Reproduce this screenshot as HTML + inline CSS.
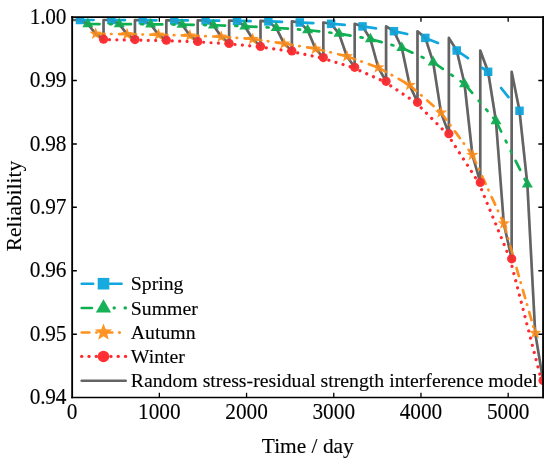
<!DOCTYPE html>
<html><head><meta charset="utf-8"><title>Reliability</title>
<style>html,body{margin:0;padding:0;background:#fff}svg{display:block}text{font-family:"Liberation Serif",serif;fill:#000;stroke:#000;stroke-width:0.12px}</style></head><body>
<svg width="550" height="464" viewBox="0 0 550 464">
<rect width="550" height="464" fill="#fff"/>
<defs><clipPath id="c"><rect x="72.15" y="17.10" width="470.90" height="380.45"/></clipPath></defs>
<g clip-path="url(#c)">
<polyline points="72.15,20.00 80.00,20.00 87.85,24.00 95.70,33.80 103.54,39.20 103.54,20.00 111.39,20.00 119.24,24.10 127.09,34.20 134.94,39.60 134.94,20.00 142.79,20.20 150.63,24.30 158.48,34.80 166.33,40.20 166.33,20.20 174.18,20.40 182.03,24.60 189.88,35.60 197.72,41.40 197.72,20.40 205.57,20.50 213.42,25.20 221.27,36.80 229.12,43.40 229.12,20.50 236.97,20.90 244.81,26.20 252.66,39.00 260.51,46.40 260.51,20.90 268.36,21.40 276.21,27.90 284.06,43.60 291.90,50.90 291.90,21.40 299.75,22.50 307.60,30.10 315.45,48.70 323.30,57.60 323.30,22.50 331.14,23.80 338.99,33.60 346.84,56.30 354.69,67.30 354.69,23.80 362.54,26.40 370.39,39.00 378.24,67.50 386.08,81.30 386.08,26.40 393.93,31.20 401.78,47.80 409.63,85.10 417.48,102.30 417.48,31.20 425.33,37.90 433.17,62.20 441.02,112.60 448.87,133.70 448.87,37.90 456.72,50.50 464.57,84.00 472.41,155.00 480.26,182.40 480.26,50.50 488.11,71.80 495.96,121.00 503.81,223.50 511.66,258.80 511.66,71.80 519.50,110.80 527.35,184.40 535.20,332.90 543.05,380.50" fill="none" stroke="#646464" stroke-width="2.65" stroke-linejoin="round" stroke-linecap="round"/>
<path d="M488.11 71.80L519.50 110.80" fill="none" stroke="#10a7de" stroke-width="2.7" stroke-dasharray="11.6 17.2" stroke-dashoffset="7.95" stroke-linecap="round"/>
<path d="M80.00 20.00L111.39 20.00M111.39 20.00L142.79 20.20M142.79 20.20L174.18 20.40M174.18 20.40L205.57 20.50M205.57 20.50L236.97 20.90M236.97 20.90L268.36 21.40M268.36 21.40L299.75 22.50M299.75 22.50L331.14 23.80M331.14 23.80L362.54 26.40M362.54 26.40L393.93 31.20M393.93 31.20L425.33 37.90M425.33 37.90L456.72 50.50M456.72 50.50L488.11 71.80" fill="none" stroke="#10a7de" stroke-width="2.7" stroke-dasharray="11.6 17.2" stroke-dashoffset="-2.0" stroke-linecap="round"/>
<rect x="75.75" y="15.75" width="8.50" height="8.50" fill="#10a7de" fill-opacity="0.97"/>
<rect x="107.14" y="15.75" width="8.50" height="8.50" fill="#10a7de" fill-opacity="0.97"/>
<rect x="138.54" y="15.95" width="8.50" height="8.50" fill="#10a7de" fill-opacity="0.97"/>
<rect x="169.93" y="16.15" width="8.50" height="8.50" fill="#10a7de" fill-opacity="0.97"/>
<rect x="201.32" y="16.25" width="8.50" height="8.50" fill="#10a7de" fill-opacity="0.97"/>
<rect x="232.72" y="16.65" width="8.50" height="8.50" fill="#10a7de" fill-opacity="0.97"/>
<rect x="264.11" y="17.15" width="8.50" height="8.50" fill="#10a7de" fill-opacity="0.97"/>
<rect x="295.50" y="18.25" width="8.50" height="8.50" fill="#10a7de" fill-opacity="0.97"/>
<rect x="326.89" y="19.55" width="8.50" height="8.50" fill="#10a7de" fill-opacity="0.97"/>
<rect x="358.29" y="22.15" width="8.50" height="8.50" fill="#10a7de" fill-opacity="0.97"/>
<rect x="389.68" y="26.95" width="8.50" height="8.50" fill="#10a7de" fill-opacity="0.97"/>
<rect x="421.08" y="33.65" width="8.50" height="8.50" fill="#10a7de" fill-opacity="0.97"/>
<rect x="452.47" y="46.25" width="8.50" height="8.50" fill="#10a7de" fill-opacity="0.97"/>
<rect x="483.86" y="67.55" width="8.50" height="8.50" fill="#10a7de" fill-opacity="0.97"/>
<rect x="515.25" y="106.55" width="8.50" height="8.50" fill="#10a7de" fill-opacity="0.97"/>
<path d="M87.85 24.00L119.24 24.10M119.24 24.10L150.63 24.30M150.63 24.30L182.03 24.60M182.03 24.60L213.42 25.20M213.42 25.20L244.81 26.20M244.81 26.20L276.21 27.90M276.21 27.90L307.60 30.10M307.60 30.10L338.99 33.60M338.99 33.60L370.39 39.00M370.39 39.00L401.78 47.80M401.78 47.80L433.17 62.20M433.17 62.20L464.57 84.00M464.57 84.00L495.96 121.00M495.96 121.00L527.35 184.40" fill="none" stroke="#0fb052" stroke-width="2.7" stroke-dasharray="10.1 10.2 2.0 9.5 2.0 9.0" stroke-dashoffset="-1.6" stroke-linecap="round"/>
<polygon points="87.85,17.65 82.35,27.18 93.35,27.18" fill="#0fb052" fill-opacity="0.97"/>
<polygon points="119.24,17.75 113.74,27.28 124.74,27.28" fill="#0fb052" fill-opacity="0.97"/>
<polygon points="150.63,17.95 145.13,27.48 156.13,27.48" fill="#0fb052" fill-opacity="0.97"/>
<polygon points="182.03,18.25 176.53,27.78 187.53,27.78" fill="#0fb052" fill-opacity="0.97"/>
<polygon points="213.42,18.85 207.92,28.38 218.92,28.38" fill="#0fb052" fill-opacity="0.97"/>
<polygon points="244.81,19.85 239.31,29.38 250.31,29.38" fill="#0fb052" fill-opacity="0.97"/>
<polygon points="276.21,21.55 270.71,31.08 281.71,31.08" fill="#0fb052" fill-opacity="0.97"/>
<polygon points="307.60,23.75 302.10,33.28 313.10,33.28" fill="#0fb052" fill-opacity="0.97"/>
<polygon points="338.99,27.25 333.49,36.78 344.49,36.78" fill="#0fb052" fill-opacity="0.97"/>
<polygon points="370.39,32.65 364.89,42.18 375.89,42.18" fill="#0fb052" fill-opacity="0.97"/>
<polygon points="401.78,41.45 396.28,50.98 407.28,50.98" fill="#0fb052" fill-opacity="0.97"/>
<polygon points="433.17,55.85 427.67,65.38 438.67,65.38" fill="#0fb052" fill-opacity="0.97"/>
<polygon points="464.57,77.65 459.07,87.18 470.07,87.18" fill="#0fb052" fill-opacity="0.97"/>
<polygon points="495.96,114.65 490.46,124.18 501.46,124.18" fill="#0fb052" fill-opacity="0.97"/>
<polygon points="527.35,178.05 521.85,187.58 532.85,187.58" fill="#0fb052" fill-opacity="0.97"/>
<path d="M95.70 33.80L127.09 34.20M127.09 34.20L158.48 34.80M158.48 34.80L189.88 35.60M189.88 35.60L221.27 36.80M221.27 36.80L252.66 39.00M252.66 39.00L284.06 43.60M284.06 43.60L315.45 48.70M315.45 48.70L346.84 56.30M346.84 56.30L378.24 67.50M378.24 67.50L409.63 85.10M409.63 85.10L441.02 112.60M441.02 112.60L472.41 155.00M472.41 155.00L503.81 223.50M503.81 223.50L535.20 332.90" fill="none" stroke="#ff911e" stroke-width="2.7" stroke-dasharray="8.35 6.5 0.5 7.55" stroke-dashoffset="-0.5" stroke-linecap="round"/>
<polygon points="95.70,27.30 97.30,31.59 101.88,31.79 98.29,34.64 99.52,39.06 95.70,36.53 91.87,39.06 93.10,34.64 89.51,31.79 94.09,31.59" fill="#ff911e" fill-opacity="0.97"/>
<polygon points="127.09,27.70 128.69,31.99 133.27,32.19 129.68,35.04 130.91,39.46 127.09,36.93 123.27,39.46 124.49,35.04 120.91,32.19 125.48,31.99" fill="#ff911e" fill-opacity="0.97"/>
<polygon points="158.48,28.30 160.09,32.59 164.66,32.79 161.08,35.64 162.30,40.06 158.48,37.53 154.66,40.06 155.89,35.64 152.30,32.79 156.88,32.59" fill="#ff911e" fill-opacity="0.97"/>
<polygon points="189.88,29.10 191.48,33.39 196.06,33.59 192.47,36.44 193.70,40.86 189.88,38.33 186.05,40.86 187.28,36.44 183.69,33.59 188.27,33.39" fill="#ff911e" fill-opacity="0.97"/>
<polygon points="221.27,30.30 222.87,34.59 227.45,34.79 223.86,37.64 225.09,42.06 221.27,39.53 217.45,42.06 218.67,37.64 215.09,34.79 219.66,34.59" fill="#ff911e" fill-opacity="0.97"/>
<polygon points="252.66,32.50 254.27,36.79 258.84,36.99 255.26,39.84 256.48,44.26 252.66,41.73 248.84,44.26 250.07,39.84 246.48,36.99 251.06,36.79" fill="#ff911e" fill-opacity="0.97"/>
<polygon points="284.06,37.10 285.66,41.39 290.24,41.59 286.65,44.44 287.88,48.86 284.06,46.33 280.23,48.86 281.46,44.44 277.87,41.59 282.45,41.39" fill="#ff911e" fill-opacity="0.97"/>
<polygon points="315.45,42.20 317.05,46.49 321.63,46.69 318.04,49.54 319.27,53.96 315.45,51.43 311.63,53.96 312.85,49.54 309.27,46.69 313.84,46.49" fill="#ff911e" fill-opacity="0.97"/>
<polygon points="346.84,49.80 348.45,54.09 353.02,54.29 349.44,57.14 350.66,61.56 346.84,59.03 343.02,61.56 344.25,57.14 340.66,54.29 345.24,54.09" fill="#ff911e" fill-opacity="0.97"/>
<polygon points="378.24,61.00 379.84,65.29 384.42,65.49 380.83,68.34 382.06,72.76 378.24,70.23 374.41,72.76 375.64,68.34 372.05,65.49 376.63,65.29" fill="#ff911e" fill-opacity="0.97"/>
<polygon points="409.63,78.60 411.23,82.89 415.81,83.09 412.22,85.94 413.45,90.36 409.63,87.83 405.81,90.36 407.03,85.94 403.45,83.09 408.02,82.89" fill="#ff911e" fill-opacity="0.97"/>
<polygon points="441.02,106.10 442.63,110.39 447.20,110.59 443.62,113.44 444.84,117.86 441.02,115.33 437.20,117.86 438.43,113.44 434.84,110.59 439.42,110.39" fill="#ff911e" fill-opacity="0.97"/>
<polygon points="472.41,148.50 474.02,152.79 478.60,152.99 475.01,155.84 476.24,160.26 472.41,157.73 468.59,160.26 469.82,155.84 466.23,152.99 470.81,152.79" fill="#ff911e" fill-opacity="0.97"/>
<polygon points="503.81,217.00 505.41,221.29 509.99,221.49 506.40,224.34 507.63,228.76 503.81,226.23 499.99,228.76 501.21,224.34 497.63,221.49 502.20,221.29" fill="#ff911e" fill-opacity="0.97"/>
<polygon points="535.20,326.40 536.81,330.69 541.38,330.89 537.80,333.74 539.02,338.16 535.20,335.63 531.38,338.16 532.61,333.74 529.02,330.89 533.60,330.69" fill="#ff911e" fill-opacity="0.97"/>
<path d="M103.54 39.20L134.94 39.60M134.94 39.60L166.33 40.20M166.33 40.20L197.72 41.40M197.72 41.40L229.12 43.40M229.12 43.40L260.51 46.40M260.51 46.40L291.90 50.90M291.90 50.90L323.30 57.60M323.30 57.60L354.69 67.30M354.69 67.30L386.08 81.30M386.08 81.30L417.48 102.30M417.48 102.30L448.87 133.70M448.87 133.70L480.26 182.40M480.26 182.40L511.66 258.80M511.66 258.80L543.05 380.50" fill="none" stroke="#ff2a2e" stroke-width="3.2" stroke-dasharray="0.01 7.4" stroke-dashoffset="0" stroke-linecap="round" transform="translate(-1.5,0.4)"/>
<circle cx="103.54" cy="39.20" r="4.60" fill="#ff2a2e" fill-opacity="0.97"/>
<circle cx="134.94" cy="39.60" r="4.60" fill="#ff2a2e" fill-opacity="0.97"/>
<circle cx="166.33" cy="40.20" r="4.60" fill="#ff2a2e" fill-opacity="0.97"/>
<circle cx="197.72" cy="41.40" r="4.60" fill="#ff2a2e" fill-opacity="0.97"/>
<circle cx="229.12" cy="43.40" r="4.60" fill="#ff2a2e" fill-opacity="0.97"/>
<circle cx="260.51" cy="46.40" r="4.60" fill="#ff2a2e" fill-opacity="0.97"/>
<circle cx="291.90" cy="50.90" r="4.60" fill="#ff2a2e" fill-opacity="0.97"/>
<circle cx="323.30" cy="57.60" r="4.60" fill="#ff2a2e" fill-opacity="0.97"/>
<circle cx="354.69" cy="67.30" r="4.60" fill="#ff2a2e" fill-opacity="0.97"/>
<circle cx="386.08" cy="81.30" r="4.60" fill="#ff2a2e" fill-opacity="0.97"/>
<circle cx="417.48" cy="102.30" r="4.60" fill="#ff2a2e" fill-opacity="0.97"/>
<circle cx="448.87" cy="133.70" r="4.60" fill="#ff2a2e" fill-opacity="0.97"/>
<circle cx="480.26" cy="182.40" r="4.60" fill="#ff2a2e" fill-opacity="0.97"/>
<circle cx="511.66" cy="258.80" r="4.60" fill="#ff2a2e" fill-opacity="0.97"/>
<circle cx="543.05" cy="380.50" r="4.60" fill="#ff2a2e" fill-opacity="0.97"/>
<polyline points="72.15,20.00 80.00,20.00 87.85,24.00 95.70,33.80 103.54,39.20 103.54,20.00 111.39,20.00 119.24,24.10 127.09,34.20 134.94,39.60 134.94,20.00 142.79,20.20 150.63,24.30 158.48,34.80 166.33,40.20 166.33,20.20 174.18,20.40 182.03,24.60 189.88,35.60 197.72,41.40 197.72,20.40 205.57,20.50 213.42,25.20 221.27,36.80 229.12,43.40 229.12,20.50 236.97,20.90 244.81,26.20 252.66,39.00 260.51,46.40 260.51,20.90 268.36,21.40 276.21,27.90 284.06,43.60 291.90,50.90 291.90,21.40 299.75,22.50 307.60,30.10 315.45,48.70 323.30,57.60 323.30,22.50 331.14,23.80 338.99,33.60 346.84,56.30 354.69,67.30 354.69,23.80 362.54,26.40 370.39,39.00 378.24,67.50 386.08,81.30 386.08,26.40 393.93,31.20 401.78,47.80 409.63,85.10 417.48,102.30 417.48,31.20 425.33,37.90 433.17,62.20 441.02,112.60 448.87,133.70 448.87,37.90 456.72,50.50 464.57,84.00 472.41,155.00 480.26,182.40 480.26,50.50 488.11,71.80 495.96,121.00 503.81,223.50 511.66,258.80 511.66,71.80 519.50,110.80 527.35,184.40 535.20,332.90 543.05,380.50" fill="none" stroke="#646464" stroke-width="2.65" stroke-linejoin="round" stroke-opacity="0.16"/>
</g>
<line x1="81.68" y1="283.70" x2="93.22" y2="283.70" stroke="#10a7de" stroke-width="2.55" stroke-linecap="round"/><line x1="109.98" y1="283.70" x2="121.62" y2="283.70" stroke="#10a7de" stroke-width="2.55" stroke-linecap="round"/>
<line x1="81.68" y1="307.90" x2="91.92" y2="307.90" stroke="#0fb052" stroke-width="2.55" stroke-linecap="round"/><line x1="114.10" y1="307.90" x2="114.30" y2="307.90" stroke="#0fb052" stroke-width="3.2" stroke-linecap="round"/><line x1="125.10" y1="307.90" x2="125.40" y2="307.90" stroke="#0fb052" stroke-width="3.2" stroke-linecap="round"/>
<line x1="81.68" y1="332.40" x2="89.42" y2="332.40" stroke="#ff911e" stroke-width="2.55" stroke-linecap="round"/><line x1="96.28" y1="332.40" x2="96.72" y2="332.40" stroke="#ff911e" stroke-width="2.55" stroke-linecap="round"/><line x1="104.48" y1="332.40" x2="112.32" y2="332.40" stroke="#ff911e" stroke-width="2.55" stroke-linecap="round"/><line x1="119.50" y1="332.40" x2="119.51" y2="332.40" stroke="#ff911e" stroke-width="3" stroke-linecap="round"/>
<line x1="81.70" y1="356.40" x2="81.71" y2="356.40" stroke="#ff2a2e" stroke-width="3.3" stroke-linecap="round"/>
<line x1="89.00" y1="356.40" x2="89.01" y2="356.40" stroke="#ff2a2e" stroke-width="3.3" stroke-linecap="round"/>
<line x1="96.30" y1="356.40" x2="96.31" y2="356.40" stroke="#ff2a2e" stroke-width="3.3" stroke-linecap="round"/>
<line x1="103.60" y1="356.40" x2="103.61" y2="356.40" stroke="#ff2a2e" stroke-width="3.3" stroke-linecap="round"/>
<line x1="110.90" y1="356.40" x2="110.91" y2="356.40" stroke="#ff2a2e" stroke-width="3.3" stroke-linecap="round"/>
<line x1="118.20" y1="356.40" x2="118.21" y2="356.40" stroke="#ff2a2e" stroke-width="3.3" stroke-linecap="round"/>
<line x1="125.50" y1="356.40" x2="125.51" y2="356.40" stroke="#ff2a2e" stroke-width="3.3" stroke-linecap="round"/>
<rect x="97.70" y="277.90" width="11.60" height="11.60" fill="#10a7de" fill-opacity="0.97"/>
<polygon points="103.50,299.27 95.85,312.52 111.15,312.52" fill="#0fb052" fill-opacity="0.97"/>
<polygon points="103.50,323.40 105.72,329.34 112.06,329.62 107.09,333.57 108.79,339.68 103.50,336.18 98.21,339.68 99.91,333.57 94.94,329.62 101.28,329.34" fill="#ff911e" fill-opacity="0.97"/>
<circle cx="103.50" cy="356.40" r="5.75" fill="#ff2a2e" fill-opacity="0.97"/>
<line x1="81.70" y1="380.80" x2="125.70" y2="380.80" stroke="#646464" stroke-width="2.6" stroke-linecap="round"/>
<text x="130.8" y="290.3" font-size="19.75">Spring</text>
<text x="130.8" y="314.5" font-size="19.75">Summer</text>
<text x="130.8" y="339.0" font-size="19.75">Autumn</text>
<text x="130.8" y="363.0" font-size="19.75">Winter</text>
<text x="130.8" y="387.4" font-size="19.75">Random stress-residual strength interference model</text>
<path d="M72.15 16.25V398.35M543.05 16.25V398.35" stroke="#000" stroke-width="1.85" fill="none"/>
<path d="M71.23 17.10H543.97" stroke="#000" stroke-width="1.7" fill="none"/>
<path d="M71.23 397.55H543.97" stroke="#000" stroke-width="1.6" fill="none"/>
<path d="M159.35 397.55v-4.7M159.35 17.10v4.7M246.56 397.55v-4.7M246.56 17.10v4.7M333.76 397.55v-4.7M333.76 17.10v4.7M420.96 397.55v-4.7M420.96 17.10v4.7M508.17 397.55v-4.7M508.17 17.10v4.7" stroke="#000" stroke-width="1.3" fill="none"/>
<path d="M72.15 80.51h4.7M543.05 80.51h-4.7M72.15 143.92h4.7M543.05 143.92h-4.7M72.15 207.32h4.7M543.05 207.32h-4.7M72.15 270.73h4.7M543.05 270.73h-4.7M72.15 334.14h4.7M543.05 334.14h-4.7" stroke="#000" stroke-width="1.5" fill="none"/>
<text transform="translate(72.15,419.4) scale(1,1.07)" font-size="21.3" text-anchor="middle">0</text>
<text transform="translate(159.35,419.4) scale(1,1.07)" font-size="21.3" text-anchor="middle">1000</text>
<text transform="translate(246.56,419.4) scale(1,1.07)" font-size="21.3" text-anchor="middle">2000</text>
<text transform="translate(333.76,419.4) scale(1,1.07)" font-size="21.3" text-anchor="middle">3000</text>
<text transform="translate(420.96,419.4) scale(1,1.07)" font-size="21.3" text-anchor="middle">4000</text>
<text transform="translate(508.17,419.4) scale(1,1.07)" font-size="21.3" text-anchor="middle">5000</text>
<text transform="translate(29.8,23.80) scale(1,1.07)" font-size="21.3" letter-spacing="-0.23">1.00</text>
<text transform="translate(29.8,87.21) scale(1,1.07)" font-size="21.3" letter-spacing="-0.23">0.99</text>
<text transform="translate(29.8,150.62) scale(1,1.07)" font-size="21.3" letter-spacing="-0.23">0.98</text>
<text transform="translate(29.8,214.02) scale(1,1.07)" font-size="21.3" letter-spacing="-0.23">0.97</text>
<text transform="translate(29.8,277.43) scale(1,1.07)" font-size="21.3" letter-spacing="-0.23">0.96</text>
<text transform="translate(29.8,340.84) scale(1,1.07)" font-size="21.3" letter-spacing="-0.23">0.95</text>
<text transform="translate(29.8,404.25) scale(1,1.07)" font-size="21.3" letter-spacing="-0.23">0.94</text>
<text transform="translate(307.8,453) scale(1,1.02)" font-size="21.4" text-anchor="middle">Time / day</text>
<text transform="translate(21.1,206) rotate(-90) scale(1,1.02)" font-size="21.4" text-anchor="middle">Reliability</text>
</svg></body></html>
